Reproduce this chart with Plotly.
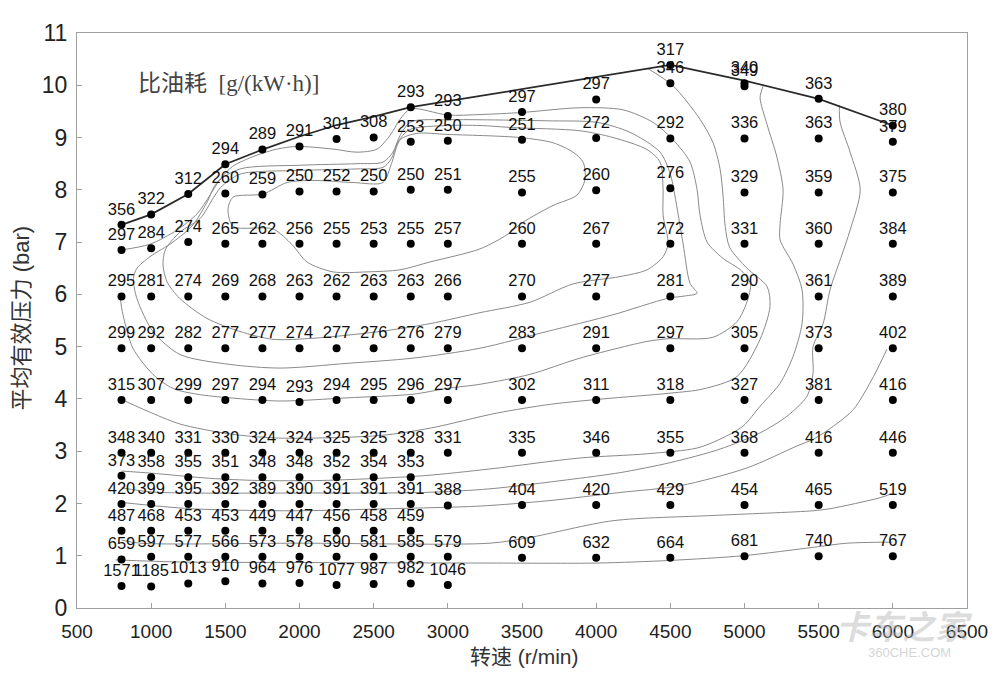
import plotly.graph_objects as go

# ---------------- measured points (speed r/min, BMEP bar, BSFC g/kWh) ----------------
rpm_800 = [800] * 11
bmep_800 = [7.33, 6.85, 5.96, 4.97, 3.98, 2.97, 2.53, 1.99, 1.48, 0.93, 0.42]
bsfc_800 = [356, 297, 295, 299, 315, 348, 373, 420, 487, 659, 1571]

rpm_1000 = [1000] * 11
bmep_1000 = [7.53, 6.88, 5.96, 4.97, 3.98, 2.97, 2.50, 1.99, 1.48, 0.98, 0.41]
bsfc_1000 = [322, 284, 281, 292, 307, 340, 358, 399, 468, 597, 1185]

rpm_1250 = [1250] * 11
bmep_1250 = [7.92, 7.00, 5.96, 4.97, 3.98, 2.97, 2.50, 1.99, 1.48, 0.98, 0.47]
bsfc_1250 = [312, 274, 274, 282, 299, 331, 355, 395, 453, 577, 1013]

rpm_1500 = [1500] * 12
bmep_1500 = [8.49, 7.93, 6.97, 5.96, 4.97, 3.98, 2.97, 2.50, 1.99, 1.48, 0.98, 0.51]
bsfc_1500 = [294, 260, 265, 269, 277, 297, 330, 351, 392, 453, 566, 910]

rpm_1750 = [1750] * 12
bmep_1750 = [8.77, 7.91, 6.97, 5.96, 4.97, 3.98, 2.97, 2.50, 1.99, 1.48, 0.98, 0.47]
bsfc_1750 = [289, 259, 262, 268, 277, 294, 324, 348, 389, 449, 573, 964]

rpm_2000 = [2000] * 12
bmep_2000 = [8.83, 7.97, 6.97, 5.96, 4.97, 3.94, 2.97, 2.50, 1.99, 1.48, 0.98, 0.48]
bsfc_2000 = [291, 250, 256, 263, 274, 293, 324, 348, 390, 447, 578, 976]

rpm_2250 = [2250] * 12
bmep_2250 = [8.97, 7.97, 6.97, 5.96, 4.97, 3.98, 2.97, 2.50, 1.99, 1.48, 0.98, 0.44]
bsfc_2250 = [301, 252, 255, 262, 277, 294, 325, 352, 391, 456, 590, 1077]

rpm_2500 = [2500] * 12
bmep_2500 = [9.00, 7.97, 6.97, 5.96, 4.97, 3.98, 2.97, 2.50, 1.99, 1.48, 0.98, 0.46]
bsfc_2500 = [308, 250, 253, 263, 276, 295, 325, 354, 391, 458, 581, 987]

rpm_2750 = [2750] * 13
bmep_2750 = [9.58, 8.92, 8.00, 6.97, 5.96, 4.97, 3.98, 2.97, 2.50, 1.99, 1.48, 0.98, 0.47]
bsfc_2750 = [293, 253, 250, 255, 263, 276, 296, 328, 353, 391, 459, 585, 982]

rpm_3000 = [3000] * 11
bmep_3000 = [9.41, 8.94, 8.00, 6.97, 5.96, 4.97, 3.98, 2.97, 1.96, 0.98, 0.44]
bsfc_3000 = [293, 250, 251, 257, 266, 279, 297, 331, 388, 579, 1046]

rpm_3500 = [3500] * 10
bmep_3500 = [9.49, 8.96, 7.95, 6.97, 5.96, 4.97, 3.98, 2.97, 1.97, 0.96]
bsfc_3500 = [297, 251, 255, 260, 270, 283, 302, 335, 404, 609]

rpm_4000 = [4000] * 10
bmep_4000 = [9.73, 8.99, 7.99, 6.97, 5.96, 4.97, 3.98, 2.97, 1.97, 0.96]
bsfc_4000 = [297, 272, 260, 267, 277, 291, 311, 346, 420, 632]

rpm_4500 = [4500] * 11
bmep_4500 = [10.39, 10.04, 8.98, 8.03, 6.97, 5.96, 4.97, 3.98, 2.97, 1.97, 0.96]
bsfc_4500 = [317, 346, 292, 276, 272, 281, 297, 318, 355, 429, 664]

rpm_5000 = [5000] * 11
bmep_5000 = [10.04, 9.98, 8.98, 7.95, 6.97, 5.96, 4.97, 3.98, 2.97, 1.97, 0.99]
bsfc_5000 = [340, 349, 336, 329, 331, 290, 305, 327, 368, 454, 681]

rpm_5500 = [5500] * 10
bmep_5500 = [9.74, 8.98, 7.95, 6.97, 5.96, 4.97, 3.98, 2.97, 1.97, 0.99]
bsfc_5500 = [363, 363, 359, 360, 361, 373, 381, 416, 465, 740]

rpm_6000 = [6000] * 10
bmep_6000 = [9.23, 8.92, 7.95, 6.97, 5.96, 4.97, 3.98, 2.97, 1.97, 0.99]
bsfc_6000 = [380, 379, 375, 384, 389, 402, 416, 446, 519, 767]

# ---------------- full-load (WOT) curve ----------------
wot_rpm = [800, 1000, 1250, 1500, 1750, 2000, 2250, 2500, 2750, 4500, 5000, 5500, 6000]
wot_bmep = [7.33, 7.53, 7.92, 8.49, 8.77, 9.02, 9.24, 9.40, 9.58, 10.39, 10.09, 9.74, 9.23]

# ---------------- iso-BSFC lines ----------------
c1_rpm = [1754, 1916, 2091, 2361, 2563, 2620, 2680, 2792, 2994, 3487, 3709, 3844, 3912, 3925, 3871,
          3709, 3507, 3399, 3217, 2880, 2678, 2455, 2226, 2050, 1950, 1822, 1552, 1518, 1552, 1754]
c1_bmep = [7.92, 8.14, 8.18, 8.14, 8.14, 8.50, 8.96, 9.08, 9.06, 9.00, 8.90, 8.72, 8.53, 8.20, 7.90,
           7.70, 7.38, 7.14, 6.87, 6.62, 6.47, 6.43, 6.43, 6.62, 6.95, 7.25, 7.30, 7.63, 7.86, 7.92]

c2_rpm = [1080, 1095, 1194, 1330, 1420, 1470, 1600, 2000, 2388, 2563, 2620, 2660, 2740, 3000, 3217,
          3440, 3891, 4114, 4343, 4431, 4451, 4451, 4485, 4451, 4343, 4161, 3844, 3554, 3217, 2880,
          2543, 2091, 1822, 1599, 1376, 1194, 1107, 1080]
c2_bmep = [6.56, 6.85, 7.19, 7.45, 7.85, 8.05, 8.30, 8.37, 8.40, 8.43, 8.60, 8.90, 9.15, 9.23, 9.23,
           9.19, 9.13, 9.00, 8.77, 8.53, 8.01, 7.52, 6.97, 6.72, 6.47, 6.34, 6.20, 5.85, 5.65, 5.44,
           5.29, 5.16, 5.14, 5.29, 5.54, 5.92, 6.24, 6.56]

c3_rpm = [880, 904, 992, 1147, 1282, 1376, 1444, 1600, 2000, 2388, 2563, 2630, 2678, 2750, 3000,
          3217, 3669, 4006, 4228, 4431, 4500, 4530, 4586, 4633, 4680, 4600, 4478, 4114, 3669, 3217,
          2765, 2320, 1869, 1531, 1194, 1012, 904, 880]
c3_bmep = [6.30, 6.50, 6.72, 7.00, 7.33, 7.76, 8.14, 8.40, 8.47, 8.50, 8.53, 8.72, 9.04, 9.30, 9.34,
           9.34, 9.32, 9.29, 9.10, 8.72, 8.30, 7.90, 6.97, 6.21, 6.02, 5.97, 5.92, 5.61, 5.29, 4.97,
           4.78, 4.68, 4.59, 4.66, 4.85, 5.29, 5.92, 6.30]

c4_rpm = [800, 992, 1174, 1309, 1397, 1464, 1550, 1700, 1850, 1983, 2226, 2388, 2523, 2610, 2678,
          2750, 3000, 3217, 3500, 3891, 4181, 4384, 4518, 4633, 4680, 4700, 4748, 4850, 4980, 5040,
          5017, 4950, 4788, 4478, 4343, 3891, 3554, 3217, 2994, 2765, 2320, 1869, 1531, 1309, 1147,
          1012, 877, 810, 790]
c4_bmep = [6.85, 6.96, 7.23, 7.54, 7.90, 8.20, 8.45, 8.65, 8.78, 8.83, 8.78, 8.72, 8.78, 9.04, 9.35,
           9.55, 9.43, 9.44, 9.48, 9.57, 9.53, 9.29, 8.96, 8.53, 8.01, 7.52, 7.00, 6.70, 6.45, 6.20,
           5.86, 5.48, 5.18, 5.15, 5.10, 4.78, 4.47, 4.28, 4.20, 4.09, 4.02, 3.96, 4.02, 4.09, 4.20,
           4.47, 4.97, 5.61, 5.96]

c5_rpm = [800, 972, 1194, 1531, 1869, 2543, 2880, 3332, 3700, 4046, 4498, 4720, 4950, 5105, 5172,
          5152, 5017, 4900, 4870, 4855, 4835, 4788, 4700, 4518, 4343]
c5_bmep = [3.99, 3.77, 3.52, 3.33, 3.25, 3.30, 3.44, 3.73, 3.90, 4.00, 4.11, 4.19, 4.43, 5.14, 5.77,
           6.15, 6.50, 6.90, 7.30, 7.90, 8.40, 8.90, 9.35, 9.99, 10.33]

c6_rpm = [800, 1000, 1400, 1714, 2158, 2833, 3284, 3891, 4343, 4680, 4835, 4990, 5105, 5240, 5327,
          5388, 5388, 5327, 5240, 5240, 5260, 5219, 5152, 5105, 5125]
c6_bmep = [2.62, 2.58, 2.48, 2.44, 2.44, 2.53, 2.66, 2.87, 2.95, 3.06, 3.23, 3.48, 3.86, 4.30, 4.81,
           5.44, 6.09, 6.58, 7.04, 7.35, 8.00, 8.62, 9.25, 9.76, 9.98]

c7_rpm = [800, 1000, 1262, 2000, 2833, 3284, 3800, 4161, 4498, 4835, 5105, 5287, 5421, 5462, 5462,
          5530, 5577, 5650, 5712, 5780, 5712, 5644, 5640]
c7_bmep = [2.30, 2.22, 2.20, 2.20, 2.21, 2.28, 2.45, 2.59, 2.78, 3.04, 3.35, 3.67, 4.05, 4.49, 5.00,
           5.44, 6.09, 6.70, 7.23, 8.00, 8.72, 9.30, 9.62]

c8_rpm = [800, 1262, 1936, 2610, 3217, 3669, 4161, 4566, 5017, 5354, 5465, 5600, 5735, 5870, 5960]
c8_bmep = [2.02, 1.90, 1.86, 1.90, 1.95, 2.05, 2.21, 2.34, 2.68, 3.10, 3.23, 3.48, 3.80, 4.43, 4.95]

c9_rpm = [800, 925, 2000, 3284, 3554, 4114, 4788, 5462, 5577, 5914, 5995]
c9_bmep = [1.30, 1.24, 1.24, 1.24, 1.35, 1.67, 1.77, 1.86, 1.90, 2.11, 2.19]

c10_rpm = [760, 1200, 2000, 3284, 4006, 4498, 4990, 5462, 5692, 5995]
c10_bmep = [0.92, 0.88, 0.87, 0.86, 0.86, 0.91, 1.00, 1.16, 1.24, 1.26]

# ---------------- texts ----------------
title_text = "比油耗&nbsp;&nbsp;[g/(kW·h)]"
x_title = "转速 (r/min)"
y_title = "平均有效压力 (bar)"
watermark_main = "<b><i>卡车之家</i></b>"
watermark_sub = "360CHE.COM"
x_ticks = [500, 1000, 1500, 2000, 2500, 3000, 3500, 4000, 4500, 5000, 5500, 6000, 6500]
y_ticks = list(range(0, 12))

fig = go.Figure()

contours = [(c1_rpm, c1_bmep), (c2_rpm, c2_bmep), (c3_rpm, c3_bmep), (c4_rpm, c4_bmep),
            (c5_rpm, c5_bmep), (c6_rpm, c6_bmep), (c7_rpm, c7_bmep), (c8_rpm, c8_bmep),
            (c9_rpm, c9_bmep), (c10_rpm, c10_bmep)]
for cx, cy in contours:
    fig.add_trace(go.Scatter(x=cx, y=cy, mode="lines",
                             line=dict(color="#8a8a8a", width=1, shape="spline", smoothing=0.8),
                             hoverinfo="skip", showlegend=False))

fig.add_trace(go.Scatter(x=wot_rpm, y=wot_bmep, mode="lines",
                         line=dict(color="#2a2a2a", width=1.8),
                         showlegend=False))

cols = [(rpm_800, bmep_800, bsfc_800), (rpm_1000, bmep_1000, bsfc_1000),
        (rpm_1250, bmep_1250, bsfc_1250), (rpm_1500, bmep_1500, bsfc_1500),
        (rpm_1750, bmep_1750, bsfc_1750), (rpm_2000, bmep_2000, bsfc_2000),
        (rpm_2250, bmep_2250, bsfc_2250), (rpm_2500, bmep_2500, bsfc_2500),
        (rpm_2750, bmep_2750, bsfc_2750), (rpm_3000, bmep_3000, bsfc_3000),
        (rpm_3500, bmep_3500, bsfc_3500), (rpm_4000, bmep_4000, bsfc_4000),
        (rpm_4500, bmep_4500, bsfc_4500), (rpm_5000, bmep_5000, bsfc_5000),
        (rpm_5500, bmep_5500, bsfc_5500), (rpm_6000, bmep_6000, bsfc_6000)]
all_x, all_y, all_t = [], [], []
for cx, cy, ct in cols:
    all_x += cx
    all_y += cy
    all_t += [str(v) for v in ct]

fig.add_trace(go.Scatter(x=all_x, y=all_y, mode="markers+text", text=all_t,
                         textposition="top center",
                         textfont=dict(family="Liberation Sans, Arial", size=16.5, color="#111"),
                         marker=dict(color="#000", size=8),
                         cliponaxis=False, showlegend=False))

axis_common = dict(showgrid=False, zeroline=False, showline=True, linecolor="#a0a0a0",
                   linewidth=1, mirror=True, ticks="inside", ticklen=5, tickcolor="#a0a0a0")

fig.update_xaxes(range=[500, 6500], tickvals=x_ticks, ticktext=[str(v) for v in x_ticks],
                 tickfont=dict(family="Liberation Sans, Arial", size=19, color="#222"),
                 ticklabelstandoff=6, **axis_common)
fig.update_yaxes(range=[0, 11], tickvals=y_ticks, ticktext=[str(v) for v in y_ticks],
                 tickfont=dict(family="Liberation Sans, Arial", size=23, color="#222"),
                 ticklabelstandoff=4, **axis_common)

fig.update_layout(
    width=1000, height=673,
    margin=dict(l=69, r=41, t=22, b=73),
    paper_bgcolor="white", plot_bgcolor="white",
    annotations=[
        dict(text=title_text, x=0.066, y=0.913, xref="paper", yref="paper",
             xanchor="left", yanchor="middle", showarrow=False,
             font=dict(family="Liberation Serif, Noto Sans CJK SC", size=23, color="#444")),
        dict(text=x_title, x=0.503, y=-0.084, xref="paper", yref="paper",
             xanchor="center", yanchor="middle", showarrow=False,
             font=dict(family="Liberation Sans, Noto Sans CJK SC", size=21, color="#333")),
        dict(text=y_title, x=-0.062, y=0.505, xref="paper", yref="paper", textangle=-90,
             xanchor="center", yanchor="middle", showarrow=False,
             font=dict(family="Liberation Sans, Noto Sans CJK SC", size=22, color="#333")),
        dict(text=watermark_main, x=0.93, y=-0.03, xref="paper", yref="paper",
             xanchor="center", yanchor="middle", showarrow=False,
             font=dict(family="Noto Sans CJK SC", size=33, color="rgba(175,175,175,0.45)")),
        dict(text=watermark_sub, x=0.935, y=-0.078, xref="paper", yref="paper",
             xanchor="center", yanchor="middle", showarrow=False,
             font=dict(family="Liberation Sans", size=13, color="rgba(175,175,175,0.55)")),
    ],
)

fig.write_html("out.html")
